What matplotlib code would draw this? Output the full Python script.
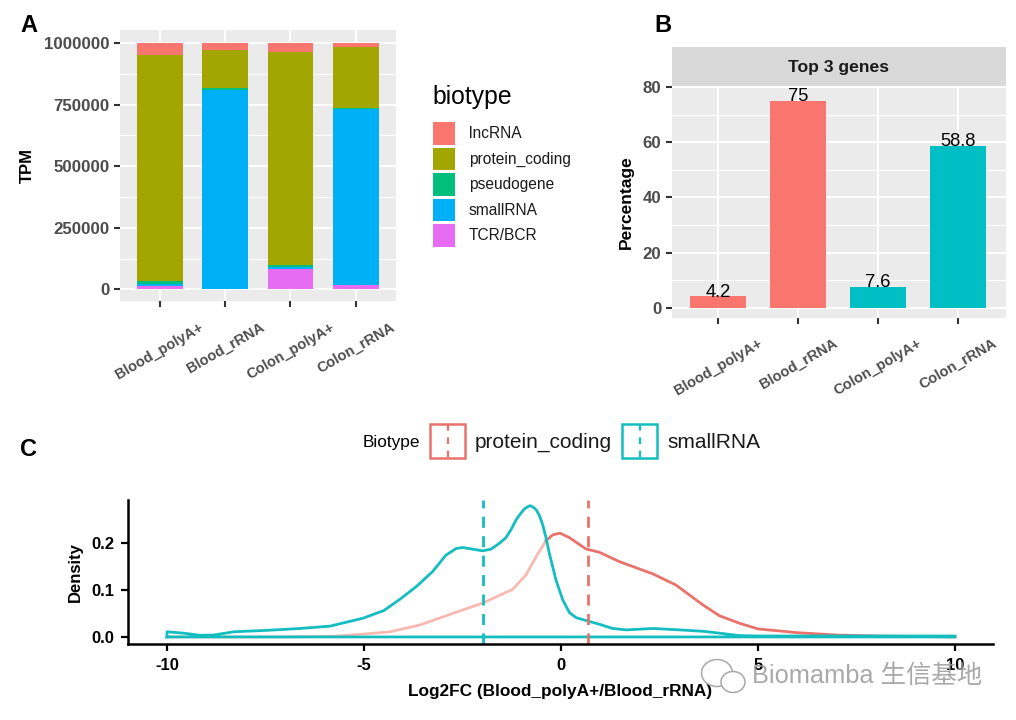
import matplotlib
matplotlib.use("Agg")
import matplotlib.pyplot as plt
from matplotlib.patches import Rectangle, Ellipse
import numpy as np

plt.rcParams["font.family"] = ["Liberation Sans", "Noto Sans CJK SC", "DejaVu Sans"]
plt.rcParams["axes.unicode_minus"] = False

W, H = 1016, 720

samples = ["Blood_polyA+", "Blood_rRNA", "Colon_polyA+", "Colon_rRNA"]
biotypes = ["lncRNA", "protein_coding", "pseudogene", "smallRNA", "TCR/BCR"]
biotype_colors = ["#F8766D", "#A3A500", "#00BF7D", "#00B0F6", "#E76BF3"]

lncrna = [50000, 27000, 35000, 15000]
protein_coding = [916000, 157000, 865000, 248000]
pseudogene = [13000, 5000, 9000, 3000]
smallrna = [8000, 810000, 10000, 716000]
tcr_bcr = [13000, 1000, 81000, 18000]

tpm_ticks = [0, 250000, 500000, 750000, 1000000]
tpm_ticklabels = ["0", "250000", "500000", "750000", "1000000"]

top3_pct = [4.2, 75, 7.6, 58.8]
top3_colors = ["#F8766D", "#F8766D", "#00BFC4", "#00BFC4"]

# teal outline, closed along the baseline like geom_density does
small_x = [-10, -10, -9.58, -9.16, -8.82, -8.3, -7.47, -6.62, -5.86, -5.02, -4.5, -4.09, -3.66,
           -3.26, -2.92, -2.66, -2.5, -2.24, -1.99, -1.78, -1.565, -1.4, -1.27, -1.14, -1.03, -0.93, -0.86,
           -0.79, -0.71, -0.63, -0.55, -0.465, -0.38, -0.3, -0.21, -0.13, 0.04, 0.21, 0.38, 0.63, 0.97,
           1.31, 1.65, 2.33, 3.0, 3.6, 4.02, 4.5, 5, 6, 7, 8, 9, 10, 10, -10]
small_y = [0, 0.011, 0.008, 0.0035, 0.004, 0.011, 0.014, 0.018, 0.023, 0.04, 0.056, 0.08, 0.108,
           0.139, 0.174, 0.188, 0.19, 0.1865, 0.183, 0.1865, 0.199, 0.211, 0.228, 0.249, 0.262, 0.272, 0.276,
           0.279, 0.276, 0.27, 0.258, 0.238, 0.21, 0.178, 0.148, 0.121, 0.079, 0.052, 0.041, 0.035, 0.027,
           0.018, 0.015, 0.018, 0.015, 0.012, 0.008, 0.003, 0.002, 0.002, 0.002, 0.002, 0.002, 0.002, 0, 0]

# left part of the red curve is washed out in the original
pc_pale_x = [-10, -7, -5.78, -5.02, -4.34, -3.58, -2.75, -1.99, -1.23, -0.89, -0.63, -0.38]
pc_pale_y = [0, 0, 0.0015, 0.006, 0.011, 0.0255, 0.05, 0.072, 0.101, 0.132, 0.171, 0.205]
pc_x = [-0.38, -0.21, -0.025, 0.21, 0.63, 0.97, 1.48, 2.33, 2.92, 3.6, 4.02, 4.53, 5, 6, 7, 8, 9, 10]
pc_y = [0.205, 0.217, 0.2205, 0.211, 0.187, 0.18, 0.16, 0.134, 0.11, 0.068, 0.045, 0.029, 0.017, 0.009, 0.004, 0.002, 0.001, 0]

median_small = -1.98
median_pc = 0.69


def px_axes(fig, left, top, right, bottom):
    return fig.add_axes([left / W, 1 - bottom / H, (right - left) / W, (bottom - top) / H])


def gg_style(ax):
    ax.set_facecolor("#EBEBEB")
    for s in ax.spines.values():
        s.set_visible(False)
    ax.set_axisbelow(True)
    ax.grid(True, which="major", color="white", lw=1.5)
    ax.grid(True, which="minor", axis="y", color="white", lw=0.8)
    ax.tick_params(axis="both", which="major", color="#333333", width=1.5, length=4.5)
    ax.tick_params(axis="both", which="minor", length=0)
    ax.tick_params(axis="y", labelsize=12.2, labelcolor="#4D4D4D", pad=3.2)
    ax.tick_params(axis="x", labelsize=10.5, labelcolor="#4D4D4D", pad=9)
    for lab in ax.get_yticklabels():
        lab.set_fontweight("bold")
    for lab in ax.get_xticklabels():
        lab.set_fontweight("bold")
        lab.set_rotation(30)
        lab.set_ha("center")


fig = plt.figure(figsize=(W / 100, H / 100), dpi=100)

# panel A
ax_a = px_axes(fig, 120, 30, 395.5, 301.5)
x = np.arange(len(samples))
bottom = np.zeros(len(samples))
for vals, col in zip([tcr_bcr, smallrna, pseudogene, protein_coding, lncrna],
                     biotype_colors[::-1]):
    ax_a.bar(x, vals, width=0.7, bottom=bottom, color=col)
    bottom += np.array(vals)
ax_a.set_xlim(-0.61, 3.61)
ax_a.set_ylim(-49000, 1053000)
ax_a.set_xticks(x, samples)
ax_a.set_yticks(tpm_ticks, tpm_ticklabels)
ax_a.set_yticks([125000, 375000, 625000, 875000], minor=True)
gg_style(ax_a)
ax_a.set_ylabel("TPM", fontsize=12, fontweight="bold", color="black", va="center")
ax_a.yaxis.set_label_coords(-0.3376, 0.5)

# panel B
ax_b = px_axes(fig, 672, 86, 1006, 317.5)
ax_b.bar(x, top3_pct, width=0.7, color=top3_colors)
for xi, v in zip(x, top3_pct):
    ax_b.annotate(str(v), (xi, v), xytext=(0, 3), textcoords="offset points",
                  ha="center", va="center", fontsize=13.2, color="black")
ax_b.set_xlim(-0.58, 3.6)
ax_b.set_ylim(-3.5, 80.4)
ax_b.set_xticks(x, samples)
ax_b.set_yticks([0, 20, 40, 60, 80])
ax_b.set_yticks([10, 30, 50, 70], minor=True)
gg_style(ax_b)
ax_b.set_ylabel("Percentage", fontsize=12.5, fontweight="bold", color="black", va="center")
ax_b.yaxis.set_label_coords(-0.1377, 0.5)

# panel C
ax_c = px_axes(fig, 128, 500, 993, 644)
ax_c.plot(pc_pale_x, pc_pale_y, color="#F8B9B3", lw=2)
ax_c.plot(pc_x, pc_y, color="#E9736B", lw=2)
ax_c.plot(small_x, small_y, color="#14BDBF", lw=2)
ax_c.axvline(median_small, color="#14BDBF", lw=2, ls=(0, (4, 3)))
ax_c.axvline(median_pc, color="#E9736B", lw=2, ls=(0, (4, 3)))
ax_c.set_xlim(-10.99, 10.96)
ax_c.set_ylim(-0.015, 0.291)
ax_c.set_xticks([-10, -5, 0, 5, 10])
ax_c.set_yticks([0, 0.1, 0.2], ["0.0", "0.1", "0.2"])
for side in ["top", "right"]:
    ax_c.spines[side].set_visible(False)
for side in ["left", "bottom"]:
    ax_c.spines[side].set_linewidth(1.8)
ax_c.tick_params(axis="both", width=1.6, length=5, labelsize=12, pad=5)
for lab in ax_c.get_xticklabels() + ax_c.get_yticklabels():
    lab.set_fontweight("bold")
ax_c.set_xlabel("Log2FC (Blood_polyA+/Blood_rRNA)", fontsize=12.4, fontweight="bold", labelpad=8)
ax_c.set_ylabel("Density", fontsize=12, fontweight="bold", va="center")
ax_c.yaxis.set_label_coords(-0.0613, 0.5)

# overlay in pixel coords for panel letters, legends, strip, watermark
ov = fig.add_axes([0, 0, 1, 1], facecolor="none")
ov.set_xlim(0, W)
ov.set_ylim(H, 0)
ov.axis("off")

ov.add_patch(Rectangle((672, 47), 334, 39, color="#D9D9D9", lw=0))
ov.text(839, 67.5, "Top 3 genes", fontsize=12.6, fontweight="bold", color="#1A1A1A", ha="center", va="center")

for label, lx, ly in [("A", 20, 25), ("B", 654, 25), ("C", 20, 450)]:
    ov.text(lx, ly, label, fontsize=17, fontweight="bold", ha="left", va="center")

ov.text(432, 97, "biotype", fontsize=17.8, ha="left", va="center")
for i, (name, col) in enumerate(zip(biotypes, biotype_colors)):
    y0 = 122 + i * 25.6
    ov.add_patch(Rectangle((433, y0), 22, 22.5, color=col, lw=0))
    ov.text(469, y0 + 11.5, name, fontsize=11.2, color="#1A1A1A", ha="left", va="center")

ov.text(363, 442, "Biotype", fontsize=12.4, ha="left", va="center")
for kx, tx, name, col in [(429, 475, "protein_coding", "#E9736B"), (621, 667, "smallRNA", "#14BDBF")]:
    ov.add_patch(Rectangle((kx + 1, 424), 35, 34, fill=False, ec=col, lw=1.8))
    ov.plot([kx + 18.5, kx + 18.5], [424, 458], color=col, lw=1.6, ls=(0, (3, 3)))
    ov.text(tx, 442, name, fontsize=15, color="#1A1A1A", ha="left", va="center")

# watermark
ov.text(752, 676, "Biomamba 生信基地", fontsize=18.3, color="#9A9A9A", ha="left", va="center", alpha=0.85)
ov.add_patch(Ellipse((717, 673), 31, 27, fill=False, ec="#A8A8A8", lw=1.1))
ov.add_patch(Ellipse((733, 682), 24, 21, facecolor="white", ec="#A8A8A8", lw=1.1))

fig.savefig("out.png", dpi=100)
